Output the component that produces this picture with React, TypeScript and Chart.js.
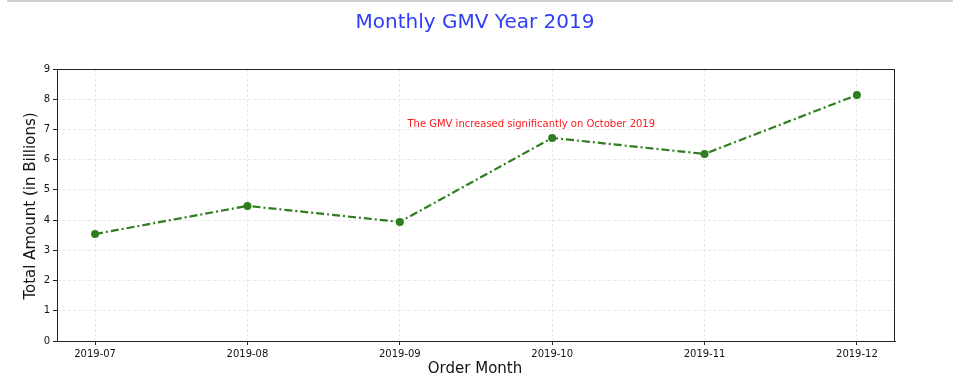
import React, { useEffect, useRef } from "react";
import { Chart, registerables } from "chart.js";

Chart.register(...registerables);

const months = ["2019-07", "2019-08", "2019-09", "2019-10", "2019-11", "2019-12"];
const gmv = [3.54, 4.47, 3.94, 6.72, 6.19, 8.14];
const yTicks = [0, 1, 2, 3, 4, 5, 6, 7, 8, 9];
const titleText = "Monthly GMV Year 2019";
const xTitle = "Order Month";
const yTitle = "Total Amount (in Billions)";
const noteText = "The GMV increased significantly on October 2019";
const notePos = { x: 2.05, y: 7.18 };

const FONT = "'DejaVu Sans', sans-serif";

const textPlugin = {
  id: "texts",
  afterDraw(chart: any) {
    const { ctx, chartArea, scales } = chart;
    ctx.save();
    // frame
    ctx.strokeStyle = "#222";
    ctx.lineWidth = 1;
    ctx.strokeRect(chartArea.left + 0.5, chartArea.top + 0.5, chartArea.right - chartArea.left - 1, chartArea.bottom - chartArea.top);
    // title
    ctx.fillStyle = "#2e3ef7";
    ctx.font = `20px ${FONT}`;
    ctx.textAlign = "center";
    ctx.textBaseline = "middle";
    ctx.fillText(titleText, 475, 23);
    // x title
    ctx.fillStyle = "#111";
    ctx.font = `15px ${FONT}`;
    ctx.fillText(xTitle, 475, 369);
    // y title
    ctx.save();
    ctx.translate(31, 206);
    ctx.rotate(-Math.PI / 2);
    ctx.fillText(yTitle, 0, 0);
    ctx.restore();
    // annotation
    ctx.fillStyle = "#ff1a1a";
    ctx.font = `10px ${FONT}`;
    ctx.textAlign = "left";
    ctx.fillText(noteText, scales.x.getPixelForValue(notePos.x), scales.y.getPixelForValue(notePos.y));
    ctx.restore();
  },
};

export default function App() {
  const ref = useRef<HTMLCanvasElement>(null);
  useEffect(() => {
    document.body.style.margin = "0";
    const chart = new Chart(ref.current!, {
      type: "line",
      data: {
        datasets: [
          {
            data: months.map((_, i) => ({ x: i, y: gmv[i] })),
            borderColor: "#2e7d1e",
            backgroundColor: "#2e7d1e",
            borderWidth: 2.2,
            borderDash: [8, 3, 2, 3],
            pointRadius: 4,
            pointHoverRadius: 4,
            pointBorderWidth: 0,
            tension: 0,
          },
        ],
      },
      options: {
        animation: false,
        responsive: false,
        maintainAspectRatio: false,
        layout: { padding: { top: 69, right: 58, left: 0, bottom: 0 } },
        plugins: { legend: { display: false }, title: { display: false }, tooltip: { enabled: false } },
        scales: {
          x: {
            type: "linear",
            min: -0.25,
            max: 5.25,
            afterBuildTicks: (s: any) => {
              s.ticks = months.map((_, i) => ({ value: i }));
            },
            afterFit: (s: any) => {
              s.height = 51;
            },
            ticks: {
              callback: (v: any) => months[Math.round(v)] ?? "",
              color: "#111",
              font: { family: FONT, size: 10 },
              padding: 3,
              maxRotation: 0,
              autoSkip: false,
            },
            grid: { color: "#e8e8e8", tickColor: "#222", tickLength: 4, lineWidth: 1 },
            border: { display: true, color: "#222", width: 1, dash: [3, 2] },
          },
          y: {
            type: "linear",
            min: 0,
            max: 9,
            afterBuildTicks: (s: any) => {
              s.ticks = yTicks.map((v) => ({ value: v }));
            },
            afterFit: (s: any) => {
              s.width = 57;
            },
            ticks: {
              color: "#111",
              font: { family: FONT, size: 10 },
              padding: 3,
            },
            grid: { color: "#e8e8e8", tickColor: "#222", tickLength: 4, lineWidth: 1 },
            border: { display: true, color: "#222", width: 1, dash: [3, 2] },
          },
        },
      },
      plugins: [textPlugin],
    });
    return () => chart.destroy();
  }, []);
  return (
    <div style={{ position: "relative", width: 953, height: 392 }}>
      <div style={{ position: "absolute", left: 7, right: 0, top: 0, height: 0, borderTop: "2px solid #d0d0d0" }} />
      <canvas ref={ref} width={953} height={392} style={{ display: "block", width: 953, height: 392 }} />
    </div>
  );
}
